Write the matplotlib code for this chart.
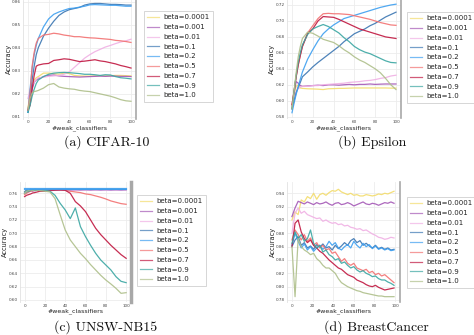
import matplotlib
matplotlib.use("Agg")
import matplotlib.pyplot as plt
from matplotlib.lines import Line2D

W, H = 474, 335

BETAS = ["beta=0.0001", "beta=0.001", "beta=0.01", "beta=0.1", "beta=0.2",
         "beta=0.5", "beta=0.7", "beta=0.9", "beta=1.0"]
COLORS = ['#f3dc6c', '#a458b6', '#f0b0e4', '#3b76b2', '#3d9ff0',
          '#f27171', '#c0163f', '#3aa6a2', '#aebf8a']

X_S = [0, 2, 4, 6, 8, 10, 15, 20, 25, 30, 35, 40, 45, 50, 55, 60, 65, 70, 75, 80, 85, 90, 95, 100]
X_D = list(range(0, 100, 3))

# (a) CIFAR-10
CIFAR = {
    "beta=0.0001": [0.814, 0.820, 0.824, 0.826, 0.827, 0.8275, 0.829, 0.829, 0.8288, 0.8285, 0.829, 0.8288, 0.828, 0.8278, 0.8277, 0.8277, 0.8278, 0.8279, 0.8278, 0.8279, 0.828, 0.828, 0.8279, 0.8278],
    "beta=0.001": [0.813, 0.817, 0.822, 0.825, 0.826, 0.8265, 0.8275, 0.828, 0.8282, 0.8278, 0.8276, 0.8275, 0.8274, 0.8273, 0.8274, 0.8275, 0.8276, 0.8277, 0.8276, 0.8277, 0.8277, 0.8276, 0.8276, 0.8275],
    "beta=0.01": [0.818, 0.822, 0.824, 0.825, 0.8262, 0.827, 0.8272, 0.8276, 0.8278, 0.828, 0.8285, 0.8295, 0.8315, 0.8335, 0.8355, 0.837, 0.8383, 0.8393, 0.8403, 0.841, 0.8418, 0.8425, 0.843, 0.8437],
    "beta=0.1": [0.812, 0.818, 0.826, 0.832, 0.837, 0.840, 0.845, 0.8485, 0.8515, 0.854, 0.8555, 0.8565, 0.857, 0.8575, 0.8585, 0.859, 0.8592, 0.8592, 0.859, 0.8588, 0.8588, 0.8587, 0.8585, 0.8585],
    "beta=0.2": [0.812, 0.822, 0.831, 0.837, 0.841, 0.844, 0.849, 0.8525, 0.8545, 0.8555, 0.8563, 0.857, 0.8572, 0.8576, 0.858, 0.8586, 0.8587, 0.8586, 0.8585, 0.8584, 0.8584, 0.8582, 0.858, 0.858],
    "beta=0.5": [0.813, 0.820, 0.832, 0.838, 0.842, 0.844, 0.8455, 0.8458, 0.8463, 0.846, 0.8455, 0.8452, 0.8448, 0.8448, 0.8445, 0.8443, 0.8442, 0.844, 0.8438, 0.8436, 0.8432, 0.843, 0.8427, 0.8423],
    "beta=0.7": [0.813, 0.815, 0.822, 0.828, 0.832, 0.8325, 0.833, 0.8332, 0.8345, 0.8348, 0.8352, 0.835, 0.8345, 0.834, 0.8342, 0.8345, 0.8348, 0.8343, 0.834, 0.8335, 0.833, 0.8323, 0.8318, 0.8312],
    "beta=0.9": [0.812, 0.815, 0.819, 0.822, 0.8245, 0.826, 0.8275, 0.8285, 0.829, 0.8292, 0.8293, 0.8292, 0.829, 0.8288, 0.8285, 0.8285, 0.8283, 0.828, 0.8283, 0.8282, 0.8275, 0.827, 0.8268, 0.8265],
    "beta=1.0": [0.813, 0.818, 0.8205, 0.821, 0.8212, 0.8215, 0.8225, 0.824, 0.8245, 0.823, 0.8225, 0.8222, 0.822, 0.8215, 0.8212, 0.821, 0.8205, 0.820, 0.8195, 0.819, 0.8183, 0.8175, 0.817, 0.8168],
}

# (b) Epsilon
EPS = {
    "beta=0.0001": [0.590, 0.608, 0.618, 0.620, 0.616, 0.6155, 0.615, 0.6148, 0.6145, 0.614, 0.615, 0.6152, 0.6155, 0.6155, 0.6158, 0.616, 0.616, 0.616, 0.616, 0.616, 0.616, 0.616, 0.6158, 0.6158],
    "beta=0.001": [0.590, 0.610, 0.624, 0.622, 0.619, 0.618, 0.6185, 0.619, 0.6195, 0.619, 0.620, 0.620, 0.6195, 0.620, 0.6205, 0.620, 0.6205, 0.6205, 0.621, 0.6205, 0.6208, 0.621, 0.621, 0.621],
    "beta=0.01": [0.590, 0.605, 0.612, 0.615, 0.617, 0.618, 0.618, 0.619, 0.619, 0.620, 0.6205, 0.621, 0.6215, 0.622, 0.623, 0.6235, 0.624, 0.625, 0.6255, 0.6265, 0.628, 0.629, 0.631, 0.632],
    "beta=0.1": [0.590, 0.600, 0.610, 0.617, 0.623, 0.630, 0.636, 0.6425, 0.648, 0.653, 0.658, 0.663, 0.668, 0.674, 0.679, 0.684, 0.687, 0.690, 0.694, 0.697, 0.701, 0.705, 0.708, 0.711],
    "beta=0.2": [0.585, 0.597, 0.608, 0.618, 0.627, 0.636, 0.652, 0.664, 0.675, 0.684, 0.690, 0.695, 0.699, 0.703, 0.705, 0.707, 0.709, 0.711, 0.713, 0.715, 0.717, 0.7185, 0.720, 0.721],
    "beta=0.5": [0.595, 0.612, 0.630, 0.645, 0.657, 0.668, 0.685, 0.694, 0.703, 0.709, 0.7095, 0.709, 0.709, 0.7085, 0.708, 0.7065, 0.705, 0.7035, 0.702, 0.700, 0.698, 0.6965, 0.695, 0.6945],
    "beta=0.7": [0.595, 0.612, 0.630, 0.645, 0.657, 0.668, 0.684, 0.690, 0.700, 0.7055, 0.705, 0.7045, 0.702, 0.699, 0.696, 0.693, 0.690, 0.688, 0.686, 0.684, 0.682, 0.680, 0.679, 0.678],
    "beta=0.9": [0.590, 0.612, 0.632, 0.648, 0.660, 0.670, 0.683, 0.690, 0.693, 0.6955, 0.693, 0.689, 0.685, 0.679, 0.674, 0.668, 0.664, 0.661, 0.659, 0.656, 0.653, 0.650, 0.648, 0.6475],
    "beta=1.0": [0.590, 0.612, 0.635, 0.655, 0.668, 0.678, 0.686, 0.6845, 0.681, 0.677, 0.675, 0.673, 0.669, 0.664, 0.660, 0.655, 0.651, 0.648, 0.644, 0.640, 0.635, 0.628, 0.620, 0.614],
}

# (c) UNSW-NB15
UNSW = {
    "beta=0.0001": [0.762, 0.764, 0.765, 0.764, 0.766, 0.765, 0.766, 0.765, 0.766, 0.7655, 0.766, 0.7655, 0.766, 0.7655, 0.766, 0.7655, 0.766, 0.7655, 0.766, 0.7655, 0.766, 0.7655, 0.766, 0.7655],
    "beta=0.001": [0.760, 0.763, 0.762, 0.764, 0.763, 0.765, 0.764, 0.765, 0.7645, 0.765, 0.7645, 0.765, 0.7645, 0.765, 0.7645, 0.765, 0.7645, 0.765, 0.7645, 0.765, 0.7645, 0.765, 0.7645, 0.765],
    "beta=0.01": [0.761, 0.762, 0.764, 0.763, 0.765, 0.764, 0.765, 0.7645, 0.765, 0.7648, 0.765, 0.7648, 0.765, 0.7648, 0.765, 0.7648, 0.765, 0.7648, 0.765, 0.7648, 0.765, 0.7648, 0.765, 0.7648],
    "beta=0.1": [0.762, 0.765, 0.764, 0.766, 0.765, 0.766, 0.7655, 0.766, 0.7658, 0.766, 0.7658, 0.766, 0.7658, 0.766, 0.7658, 0.766, 0.7658, 0.766, 0.7658, 0.766, 0.7658, 0.766, 0.7658, 0.766],
    "beta=0.2": [0.7662, 0.7662, 0.7662, 0.7662, 0.7662, 0.7662, 0.7662, 0.7662, 0.7662, 0.7662, 0.7662, 0.7662, 0.7662, 0.7662, 0.7662, 0.7662, 0.7662, 0.7662, 0.7662, 0.7662, 0.7662, 0.7662, 0.7662, 0.7662],
    "beta=0.5": [0.758, 0.760, 0.762, 0.763, 0.764, 0.764, 0.765, 0.765, 0.765, 0.7655, 0.765, 0.7645, 0.763, 0.762, 0.761, 0.759, 0.758, 0.756, 0.754, 0.7515, 0.7485, 0.7465, 0.7445, 0.7435],
    "beta=0.7": [0.755, 0.757, 0.758, 0.759, 0.7605, 0.761, 0.763, 0.763, 0.764, 0.7645, 0.765, 0.7645, 0.760, 0.7475, 0.741, 0.7325, 0.720, 0.7075, 0.698, 0.690, 0.682, 0.675, 0.668, 0.6625],
    "beta=0.9": [0.760, 0.762, 0.763, 0.764, 0.765, 0.764, 0.765, 0.7645, 0.763, 0.757, 0.745, 0.735, 0.722, 0.738, 0.710, 0.695, 0.682, 0.670, 0.660, 0.6525, 0.645, 0.635, 0.628, 0.626],
    "beta=1.0": [0.760, 0.763, 0.764, 0.765, 0.764, 0.765, 0.764, 0.763, 0.762, 0.752, 0.728, 0.705, 0.690, 0.680, 0.670, 0.662, 0.653, 0.645, 0.637, 0.630, 0.624, 0.6175, 0.610, 0.611],
}

# (d) BreastCancer
BREAST = {
    "beta=0.0001": [0.900, 0.912, 0.908, 0.930, 0.927, 0.935, 0.932, 0.940, 0.931, 0.938, 0.940, 0.937, 0.941, 0.944, 0.943, 0.946, 0.942, 0.940, 0.938, 0.940, 0.937, 0.938, 0.936, 0.936, 0.938, 0.937, 0.936, 0.937, 0.939, 0.938, 0.940, 0.939, 0.941, 0.943],
    "beta=0.001": [0.905, 0.918, 0.928, 0.926, 0.924, 0.927, 0.925, 0.923, 0.926, 0.924, 0.925, 0.927, 0.924, 0.922, 0.925, 0.926, 0.923, 0.924, 0.926, 0.924, 0.921, 0.923, 0.925, 0.927, 0.924, 0.923, 0.925, 0.924, 0.922, 0.924, 0.926, 0.925, 0.927, 0.925],
    "beta=0.01": [0.880, 0.910, 0.918, 0.910, 0.913, 0.908, 0.906, 0.904, 0.902, 0.903, 0.898, 0.900, 0.897, 0.895, 0.896, 0.893, 0.894, 0.891, 0.892, 0.889, 0.888, 0.886, 0.887, 0.884, 0.885, 0.882, 0.879, 0.877, 0.874, 0.873, 0.871, 0.872, 0.874, 0.873],
    "beta=0.1": [0.860, 0.870, 0.875, 0.862, 0.866, 0.858, 0.861, 0.856, 0.863, 0.859, 0.864, 0.858, 0.860, 0.855, 0.862, 0.857, 0.861, 0.866, 0.862, 0.869, 0.872, 0.866, 0.869, 0.862, 0.865, 0.861, 0.858, 0.862, 0.857, 0.859, 0.856, 0.858, 0.855, 0.856],
    "beta=0.2": [0.862, 0.880, 0.868, 0.858, 0.864, 0.855, 0.860, 0.853, 0.858, 0.862, 0.856, 0.860, 0.868, 0.862, 0.866, 0.858, 0.855, 0.860, 0.863, 0.858, 0.868, 0.862, 0.858, 0.865, 0.860, 0.863, 0.857, 0.861, 0.856, 0.858, 0.855, 0.857, 0.854, 0.855],
    "beta=0.5": [0.870, 0.885, 0.878, 0.870, 0.878, 0.868, 0.873, 0.862, 0.866, 0.858, 0.862, 0.855, 0.857, 0.850, 0.852, 0.845, 0.838, 0.842, 0.835, 0.832, 0.835, 0.828, 0.826, 0.824, 0.826, 0.821, 0.823, 0.818, 0.820, 0.816, 0.818, 0.814, 0.810, 0.806],
    "beta=0.7": [0.860, 0.895, 0.900, 0.882, 0.872, 0.866, 0.870, 0.862, 0.858, 0.853, 0.850, 0.845, 0.840, 0.836, 0.832, 0.828, 0.826, 0.822, 0.818, 0.816, 0.814, 0.810, 0.808, 0.806, 0.803, 0.801, 0.800, 0.802, 0.799, 0.797, 0.795, 0.796, 0.797, 0.798],
    "beta=0.9": [0.865, 0.882, 0.872, 0.878, 0.868, 0.872, 0.885, 0.865, 0.858, 0.862, 0.852, 0.855, 0.848, 0.845, 0.840, 0.842, 0.835, 0.837, 0.832, 0.828, 0.830, 0.825, 0.822, 0.824, 0.820, 0.818, 0.815, 0.816, 0.812, 0.810, 0.810, 0.807, 0.805, 0.802],
    "beta=1.0": [0.860, 0.785, 0.872, 0.860, 0.855, 0.852, 0.848, 0.850, 0.842, 0.838, 0.832, 0.828, 0.828, 0.824, 0.820, 0.812, 0.806, 0.803, 0.800, 0.798, 0.796, 0.794, 0.793, 0.791, 0.790, 0.789, 0.788, 0.787, 0.786, 0.786, 0.785, 0.785, 0.785, 0.785],
}

CAPTIONS = ["(a) CIFAR-10", "(b) Epsilon", "(c) UNSW-NB15", "(d) BreastCancer"]

fig = plt.figure(figsize=(W / 100, H / 100), dpi=100)


def px_axes(l, t, r, b):
    return fig.add_axes([l / W, 1 - b / H, (r - l) / W, (b - t) / H])


panels = [
    # data, x, box(l,t,r,b), ylim, yticks, legend(l,t), caption (x,y), right spine lw,
    # ylabel right-edge x px, draw beta=0.2 on top
    (CIFAR, X_S, (22.85, 0, 136.15, 118.8), (0.8092, 0.8607),
     [0.81, 0.82, 0.83, 0.84, 0.85, 0.86], (144, 11), (107, 142.5), 1.2, 12, False),
    (EPS, X_S, (286.8, 0, 401.2, 118.3), (0.578, 0.72625),
     [0.58, 0.60, 0.62, 0.64, 0.66, 0.68, 0.70, 0.72], (407, 12), (372, 142.5), 1.2, 275, False),
    (UNSW, X_S, (19.5, 182, 131.2, 302), (0.597, 0.7769),
     [0.60, 0.62, 0.64, 0.66, 0.68, 0.70, 0.72, 0.74, 0.76], (137, 195), (105.5, 327), 2.5, 7.6, True),
    (BREAST, X_D, (286.8, 182, 400.2, 302), (0.777, 0.9569),
     [0.78, 0.80, 0.82, 0.84, 0.86, 0.88, 0.90, 0.92, 0.94], (407, 197), (376, 327), 1.2, 276, False),
]

for i, (data, xs, box, ylim, yticks, leg, cap, rlw, ylx, blue_top) in enumerate(panels):
    ax = px_axes(*box)
    ax.set_facecolor('white')
    for name, col in zip(BETAS, COLORS):
        lw, z = 0.9, 2
        if blue_top and name == "beta=0.2":
            lw, z = 1.6, 5
        ax.plot(xs, data[name], color=col, lw=lw, alpha=0.9, zorder=z)
    ax.set_xlim(-5, 105)
    ax.set_ylim(*ylim)
    ax.set_xticks([0, 20, 40, 60, 80, 100])
    ax.set_yticks(yticks)
    ax.set_yticklabels([f"{v:.2f}" for v in yticks])
    ax.grid(True, color='#ececec', lw=0.6)
    ax.set_axisbelow(True)
    ax.tick_params(length=0, labelsize=3.0, colors='#444444', pad=1.2)
    for s in ['top', 'bottom']:
        ax.spines[s].set_visible(False)
    ax.spines['left'].set_color('#e2e2e2')
    ax.spines['left'].set_linewidth(0.6)
    ax.spines['right'].set_color('#a8a8a8')
    ax.spines['right'].set_linewidth(rlw)
    ax.set_xlabel('#weak_classifiers', fontsize=4.5, labelpad=0.8, color='#222222')
    ax.set_ylabel('Accuracy', fontsize=4.8, color='#222222')
    # label anchor (its right edge after rotation) at the given figure pixel x
    ax.yaxis.set_label_coords((ylx - box[0]) / (box[2] - box[0]), 0.5)

    handles = [Line2D([], [], color=c, lw=0.9, alpha=0.7) for c in COLORS]
    lg = ax.legend(handles, BETAS, loc='upper left',
                   bbox_to_anchor=(leg[0] / W, 1 - leg[1] / H),
                   bbox_transform=fig.transFigure, fontsize=5,
                   labelspacing=0.54, handlelength=1.6, handletextpad=0.7,
                   borderpad=0.5, borderaxespad=0, fancybox=False,
                   framealpha=1, edgecolor='#d0d0d0')
    lg.get_frame().set_linewidth(0.6)
    for t in lg.get_texts():
        t.set_color('#222222')

    fig.text(cap[0] / W, 1 - cap[1] / H, CAPTIONS[i], fontname='cmr10',
             fontsize=10, ha='center', va='center', color='#111111')

fig.savefig('out.png', dpi=100)
